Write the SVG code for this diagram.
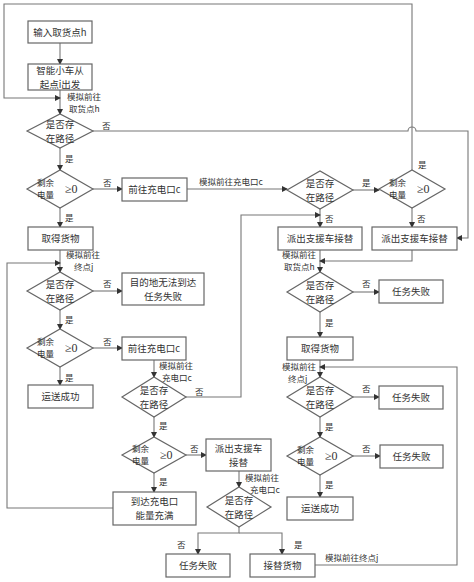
<svg xmlns="http://www.w3.org/2000/svg" width="474" height="582" viewBox="0 0 474 582">
<style>
.box{fill:#fff;stroke:#666;stroke-width:1.2}
.dia{fill:#fff;stroke:#666;stroke-width:1.2}
.ln{fill:none;stroke:#777;stroke-width:1.1}
.t{font-family:"Noto Sans CJK SC","Noto Sans",sans-serif;font-size:9.5px;fill:#333;text-anchor:middle}
.s{font-family:"Noto Sans CJK SC","Noto Sans",sans-serif;font-size:8.5px;fill:#333}
.g{font-family:"Liberation Serif","Noto Sans CJK SC",serif;font-size:12px;fill:#333}
</style>
<defs>
<marker id="a" markerWidth="6" markerHeight="6" refX="5" refY="3" orient="auto" markerUnits="userSpaceOnUse">
<path d="M0,0 L6,3 L0,6 Z" fill="#333"/>
</marker>
</defs>
<rect width="474" height="582" fill="#fff"/>

<g id="connectors">
<path class="ln" d="M60,43 V64" marker-end="url(#a)"/>
<path class="ln" d="M60,90 V114" marker-end="url(#a)"/>
<path class="ln" d="M412,170 V4 H4 V98 H60" marker-end="url(#a)"/>
<path class="ln" d="M93,131 H408 A4,4 0 0 1 416,131 H468 V238 H457" marker-end="url(#a)"/>
<path class="ln" d="M60,148 V170" marker-end="url(#a)"/>
<path class="ln" d="M93,189 H122" marker-end="url(#a)"/>
<path class="ln" d="M60,208 V227" marker-end="url(#a)"/>
<path class="ln" d="M187,189 H287" marker-end="url(#a)"/>
<path class="ln" d="M353,190 H379" marker-end="url(#a)"/>
<path class="ln" d="M320,209 V227" marker-end="url(#a)"/>
<path class="ln" d="M412,208 V227" marker-end="url(#a)"/>
<path class="ln" d="M320,250 V272" marker-end="url(#a)"/>
<path class="ln" d="M412,250 V261 H320" marker-end="url(#a)"/>
<path class="ln" d="M353,292 H379" marker-end="url(#a)"/>
<path class="ln" d="M320,312 V337" marker-end="url(#a)"/>
<path class="ln" d="M320,360 V377" marker-end="url(#a)"/>
<path class="ln" d="M315,565 H457 V367 H320" marker-end="url(#a)"/>
<path class="ln" d="M353,397 H379" marker-end="url(#a)"/>
<path class="ln" d="M320,417 V437" marker-end="url(#a)"/>
<path class="ln" d="M353,456 H380" marker-end="url(#a)"/>
<path class="ln" d="M320,475 V497" marker-end="url(#a)"/>
<path class="ln" d="M60,250 V272" marker-end="url(#a)"/>
<path class="ln" d="M113,508 H7 V263 H60" marker-end="url(#a)"/>
<path class="ln" d="M93,291 H122" marker-end="url(#a)"/>
<path class="ln" d="M60,310 V329" marker-end="url(#a)"/>
<path class="ln" d="M93,348 H122" marker-end="url(#a)"/>
<path class="ln" d="M60,367 V385" marker-end="url(#a)"/>
<path class="ln" d="M154,360 V377" marker-end="url(#a)"/>
<path class="ln" d="M186,397 H241 V215 H320" marker-end="url(#a)"/>
<path class="ln" d="M154,417 V437" marker-end="url(#a)"/>
<path class="ln" d="M186,455 H206" marker-end="url(#a)"/>
<path class="ln" d="M154,473 V492" marker-end="url(#a)"/>
<path class="ln" d="M239,471 V487" marker-end="url(#a)"/>
<path class="ln" d="M239,527 V533 H198 V554" marker-end="url(#a)"/>
<path class="ln" d="M239,533 H282 V554" marker-end="url(#a)"/>

<text class="s" x="67" y="100">模拟前往</text>
<text class="s" x="69" y="112">取货点h</text>
<text class="s" x="102" y="129">否</text>
<text class="s" x="65" y="162">是</text>
<text class="s" x="103" y="186">否</text>
<text class="s" x="65" y="221">是</text>
<text class="s" x="199" y="185">模拟前往充电口c</text>
<text class="s" x="362" y="186">是</text>
<text class="s" x="418" y="168">是</text>
<text class="s" x="325" y="222">否</text>
<text class="s" x="417" y="222">否</text>
<text class="s" x="282" y="258">模拟前往</text>
<text class="s" x="284" y="270">取货点h</text>
<text class="s" x="362" y="287">否</text>
<text class="s" x="325" y="326">是</text>
<text class="s" x="282" y="370">模拟前往</text>
<text class="s" x="288" y="382">终点j</text>
<text class="s" x="325" y="561">模拟前往终点j</text>
<text class="s" x="362" y="392">否</text>
<text class="s" x="325" y="430">是</text>
<text class="s" x="362" y="452">否</text>
<text class="s" x="325" y="488">是</text>
<text class="s" x="66" y="258">模拟前往</text>
<text class="s" x="74" y="270">终点j</text>
<text class="s" x="103" y="287">否</text>
<text class="s" x="65" y="323">是</text>
<text class="s" x="103" y="345">否</text>
<text class="s" x="65" y="381">是</text>
<text class="s" x="159" y="369">模拟前往</text>
<text class="s" x="162" y="381">充电口c</text>
<text class="s" x="195" y="395">否</text>
<text class="s" x="159" y="429">是</text>
<text class="s" x="190" y="452">否</text>
<text class="s" x="159" y="485">是</text>
<text class="s" x="245" y="481">模拟前往</text>
<text class="s" x="250" y="493">充电口c</text>
<text class="s" x="177" y="548">否</text>
<text class="s" x="294" y="548">是</text>
</g>

<g id="n1"><rect class="box" x="28" y="21" width="64" height="22"/><text class="t" x="60" y="35.5">输入取货点h</text></g>
<g id="n2"><rect class="box" x="28" y="64" width="64" height="26"/><text class="t" x="60" y="74">智能小车从</text><text class="t" x="60" y="88">起点i出发</text></g>
<g id="n3"><polygon class="dia" points="27,131 60,114 93,131 60,148"/><text class="t" x="60" y="127.5">是否存</text><text class="t" x="60" y="141.5">在路径</text></g>
<g id="n4"><polygon class="dia" points="27,189 60,170 93,189 60,208"/><text class="s" x="37" y="186">剩余</text><text class="s" x="37" y="198">电量</text><text class="g" x="65" y="193">≥0</text></g>
<g id="n5"><rect class="box" x="122" y="178" width="65" height="23"/><text class="t" x="154.5" y="193">前往充电口c</text></g>
<g id="n6"><rect class="box" x="28" y="227" width="65" height="23"/><text class="t" x="60.5" y="242">取得货物</text></g>
<g id="n7"><polygon class="dia" points="287,190 320,171 353,190 320,209"/><text class="t" x="320" y="186.5">是否存</text><text class="t" x="320" y="200.5">在路径</text></g>
<g id="n8"><polygon class="dia" points="379,189 412,170 445,189 412,208"/><text class="s" x="389" y="186">剩余</text><text class="s" x="389" y="198">电量</text><text class="g" x="417" y="193">≥0</text></g>
<g id="n9"><rect class="box" x="278" y="227" width="84" height="23"/><text class="t" x="320" y="242">派出支援车接替</text></g>
<g id="n10"><rect class="box" x="372" y="227" width="85" height="23"/><text class="t" x="414.5" y="242">派出支援车接替</text></g>
<g id="n11"><polygon class="dia" points="287,292 320,272 353,292 320,312"/><text class="t" x="320" y="288.5">是否存</text><text class="t" x="320" y="302.5">在路径</text></g>
<g id="n12"><rect class="box" x="379" y="280" width="64" height="23"/><text class="t" x="411" y="295">任务失败</text></g>
<g id="n13"><rect class="box" x="287" y="337" width="66" height="23"/><text class="t" x="320" y="352">取得货物</text></g>
<g id="n14"><polygon class="dia" points="287,397 320,377 353,397 320,417"/><text class="t" x="320" y="393.5">是否存</text><text class="t" x="320" y="407.5">在路径</text></g>
<g id="n15"><rect class="box" x="379" y="386" width="64" height="23"/><text class="t" x="411" y="401">任务失败</text></g>
<g id="n16"><polygon class="dia" points="287,456 320,437 353,456 320,475"/><text class="s" x="297" y="453">剩余</text><text class="s" x="297" y="465">电量</text><text class="g" x="325" y="460">≥0</text></g>
<g id="n17"><rect class="box" x="380" y="445" width="63" height="23"/><text class="t" x="411.5" y="460">任务失败</text></g>
<g id="n18"><rect class="box" x="287" y="497" width="66" height="23"/><text class="t" x="320" y="512">运送成功</text></g>
<g id="n19"><polygon class="dia" points="27,291 60,272 93,291 60,310"/><text class="t" x="60" y="287.5">是否存</text><text class="t" x="60" y="301.5">在路径</text></g>
<g id="n20"><rect class="box" x="122" y="273" width="82" height="32"/><text class="t" x="163" y="285.5">目的地无法到达</text><text class="t" x="163" y="299.5">任务失败</text></g>
<g id="n21"><polygon class="dia" points="27,348 60,329 93,348 60,367"/><text class="s" x="37" y="345">剩余</text><text class="s" x="37" y="357">电量</text><text class="g" x="65" y="352">≥0</text></g>
<g id="n22"><rect class="box" x="122" y="337" width="64" height="23"/><text class="t" x="154" y="352">前往充电口c</text></g>
<g id="n23"><rect class="box" x="28" y="385" width="65" height="23"/><text class="t" x="60.5" y="400">运送成功</text></g>
<g id="n24"><polygon class="dia" points="122,397 154,377 186,397 154,417"/><text class="t" x="154" y="393.5">是否存</text><text class="t" x="154" y="407.5">在路径</text></g>
<g id="n25"><polygon class="dia" points="122,455 154,437 186,455 154,473"/><text class="s" x="132" y="452">剩余</text><text class="s" x="132" y="464">电量</text><text class="g" x="160" y="459">≥0</text></g>
<g id="n26"><rect class="box" x="206" y="439" width="65" height="32"/><text class="t" x="238.5" y="451.5">派出支援车</text><text class="t" x="238.5" y="465.5">接替</text></g>
<g id="n27"><rect class="box" x="113" y="492" width="83" height="33"/><text class="t" x="154.5" y="505">到达充电口</text><text class="t" x="154.5" y="519">能量充满</text></g>
<g id="n28"><polygon class="dia" points="207,507 239,487 271,507 239,527"/><text class="t" x="239" y="503.5">是否存</text><text class="t" x="239" y="517.5">在路径</text></g>
<g id="n29"><rect class="box" x="166" y="554" width="64" height="23"/><text class="t" x="198" y="569">任务失败</text></g>
<g id="n30"><rect class="box" x="250" y="554" width="65" height="23"/><text class="t" x="282.5" y="569">接替货物</text></g>
</svg>
